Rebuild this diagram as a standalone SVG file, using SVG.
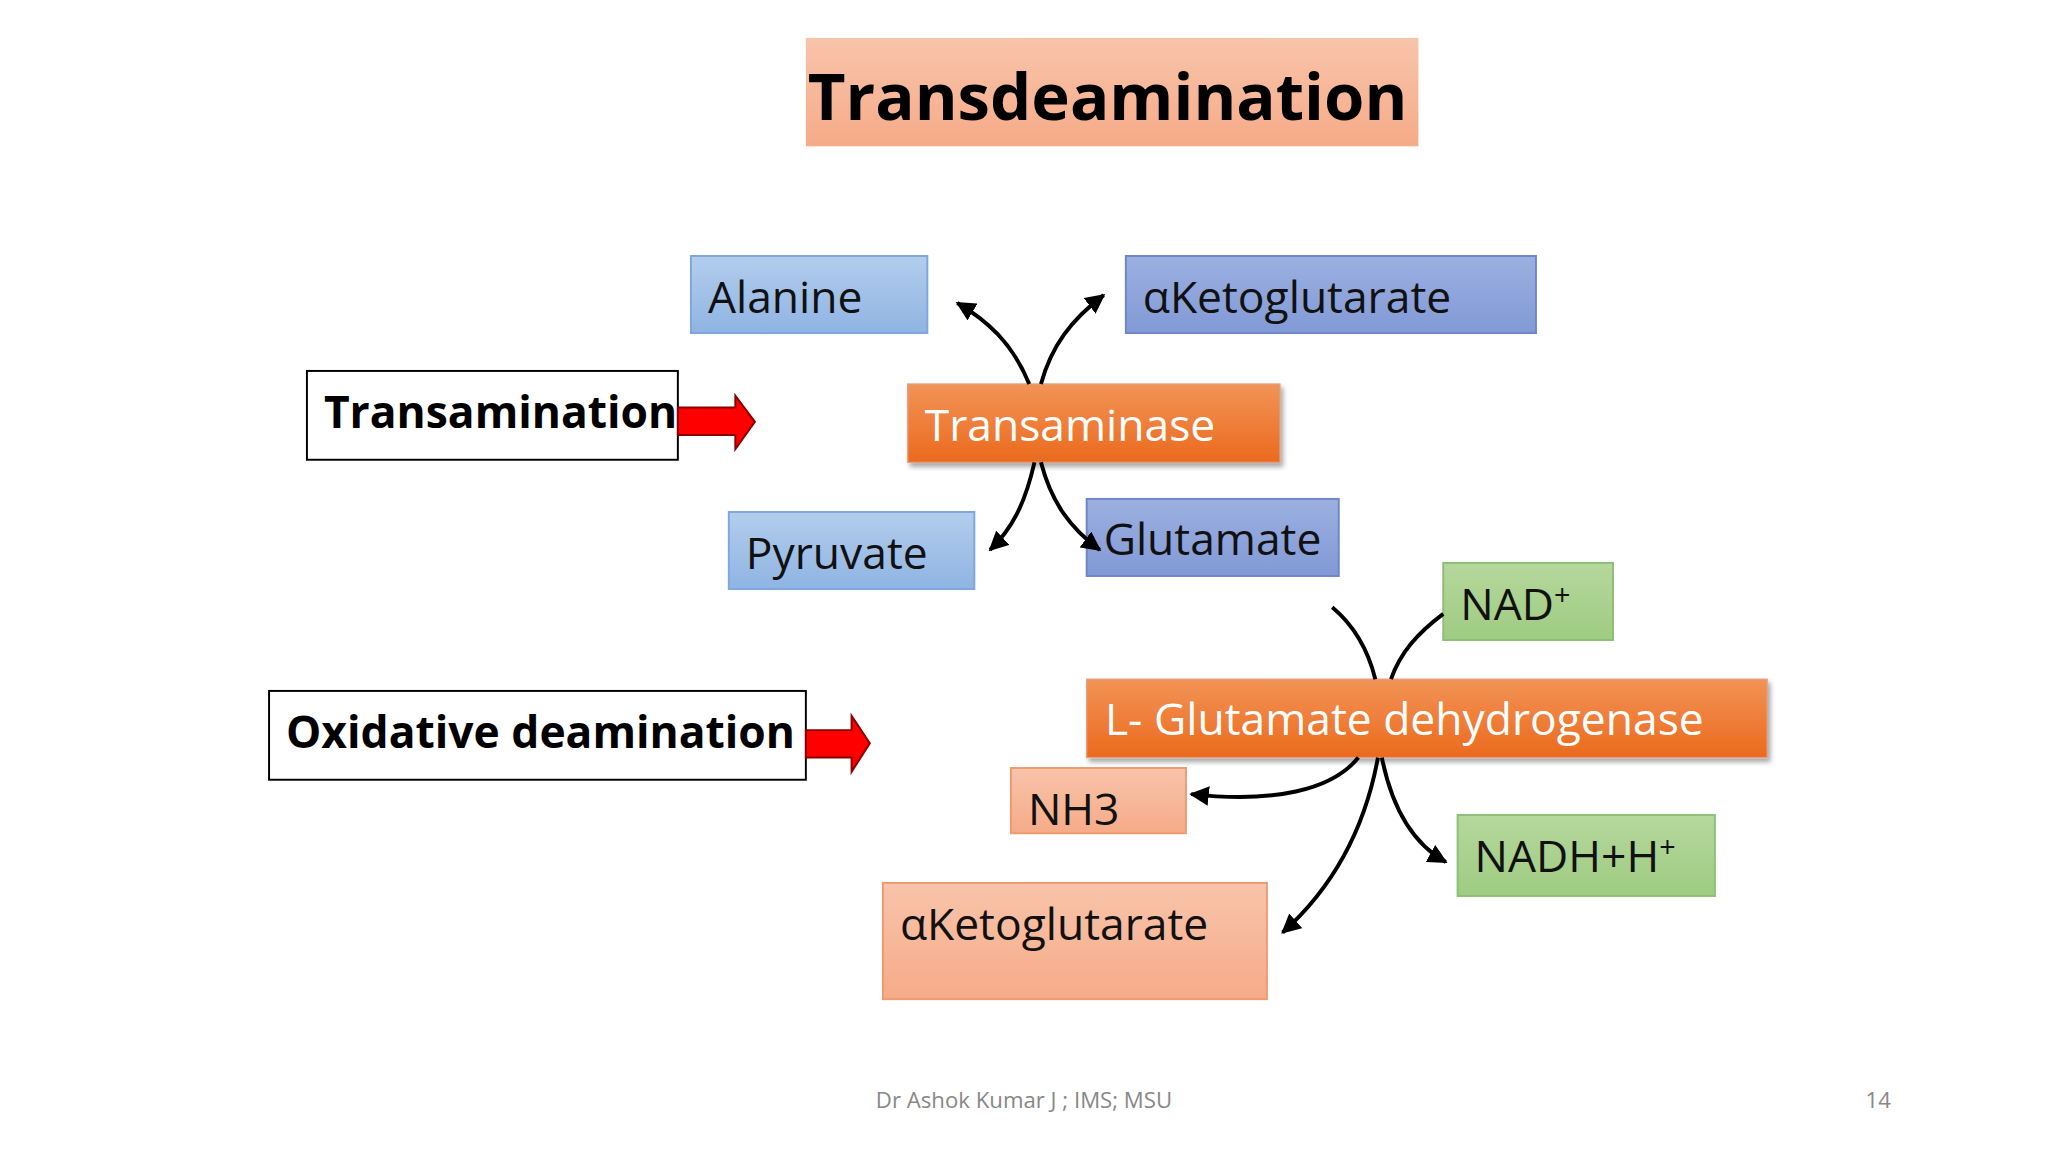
<svg xmlns="http://www.w3.org/2000/svg" width="2048" height="1152" viewBox="0 0 2048 1152">
<style>
text{font-family:"Open Sans","Liberation Sans",sans-serif;}
.t{font-size:34px;fill:#111}
.w{font-size:34px;fill:#fff}
.b{font-size:34px;font-weight:bold;fill:#000}
.c{fill:none;stroke:#000;stroke-width:3}
.blue{fill:url(#gb);stroke:#7fa7d9;stroke-width:1.5}
.pur{fill:url(#gp);stroke:#6f86c9;stroke-width:1.5}
.org{fill:url(#go);stroke:#e0a080;stroke-width:1}
.sal{fill:url(#gs);stroke:#ee9a72;stroke-width:1.5}
.grn{fill:url(#gg);stroke:#8cc078;stroke-width:1.5}
.red{fill:#f00;stroke:#800;stroke-width:1.5}
</style>
<defs>
<linearGradient id="gb" x1="0" y1="0" x2="0" y2="1"><stop offset="0" stop-color="#b3cdec"/><stop offset="1" stop-color="#8fb4e3"/></linearGradient>
<linearGradient id="gp" x1="0" y1="0" x2="0" y2="1"><stop offset="0" stop-color="#9cb0e0"/><stop offset="1" stop-color="#8199d6"/></linearGradient>
<linearGradient id="go" x1="0" y1="0" x2="0" y2="1"><stop offset="0" stop-color="#f29356"/><stop offset="1" stop-color="#eb6a1e"/></linearGradient>
<linearGradient id="gs" x1="0" y1="0" x2="0" y2="1"><stop offset="0" stop-color="#f8c4ab"/><stop offset="1" stop-color="#f6ab88"/></linearGradient>
<linearGradient id="gg" x1="0" y1="0" x2="0" y2="1"><stop offset="0" stop-color="#b5d89c"/><stop offset="1" stop-color="#9fcb82"/></linearGradient>
<marker id="ah" viewBox="0 0 10 10" refX="9" refY="5" markerWidth="5" markerHeight="5" orient="auto"><path d="M0,0L10,5L0,10z" fill="#000"/></marker>
<filter id="sh"><feDropShadow dx="2" dy="3" stdDeviation="2" flood-opacity="0.35"/></filter>
</defs>
<rect width="2048" height="1152" fill="#fff"/>
<g transform="scale(1.3061)">
<g id="title"><rect x="617" y="29" width="469" height="83" fill="url(#gs)"/><text x="848" y="92" text-anchor="middle" style="font-size:50px;font-weight:bold;fill:#000">Transdeamination</text></g>
<g id="alanine"><rect class="blue" x="529" y="196" width="181" height="59"/><text class="t" x="542" y="240">Alanine</text></g>
<g id="akg1"><rect class="pur" x="862" y="196" width="314" height="59"/><text class="t" x="875" y="240">αKetoglutarate</text></g>
<g id="transamination"><rect x="235" y="284" width="284" height="68" fill="#fff" stroke="#000" stroke-width="1.5"/><text class="b" x="248" y="328">Transamination</text></g>
<g id="arrow1"><path class="red" d="M519,312H563V303L578,323L563,344V333H519Z"/></g>
<g id="transaminase"><rect class="org" x="695" y="294" width="285" height="60" filter="url(#sh)"/><text class="w" x="708" y="338">Transaminase</text></g>
<g id="pyruvate"><rect class="blue" x="558" y="392" width="188" height="59"/><text class="t" x="571" y="436">Pyruvate</text></g>
<g id="glutamate"><rect class="pur" x="832" y="382" width="193" height="59"/><text class="t" x="845" y="425">Glutamate</text></g>
<g id="nad"><rect class="grn" x="1105" y="431" width="130" height="59"/><text class="t" x="1118" y="475">NAD<tspan style="font-size:22px" dy="-12">+</tspan></text></g>
<g id="oxidative"><rect x="206" y="529" width="411" height="68" fill="#fff" stroke="#000" stroke-width="1.5"/><text class="b" x="219" y="573">Oxidative deamination</text></g>
<g id="arrow2"><path class="red" d="M617,559H652V548L666,569L652,591V580H617Z"/></g>
<g id="gdh"><rect class="org" x="832" y="520" width="521" height="60" filter="url(#sh)"/><text class="w" x="846" y="563">L- Glutamate dehydrogenase</text></g>
<g id="nh3"><rect class="sal" x="774" y="588" width="134" height="50"/><text class="t" x="787" y="632">NH3</text></g>
<g id="nadh"><rect class="grn" x="1116" y="624" width="197" height="62"/><text class="t" x="1129" y="668">NADH+H<tspan style="font-size:22px" dy="-12">+</tspan></text></g>
<g id="akg2"><rect class="sal" x="676" y="676" width="294" height="89"/><text class="t" x="689" y="720">αKetoglutarate</text></g>
<g id="connectors">
<path class="c" d="M788,294C775,262 755,245 733,232" marker-end="url(#ah)"/>
<path class="c" d="M797,294C805,265 820,245 845,226" marker-end="url(#ah)"/>
<path class="c" d="M792,354C785,385 775,405 758,421" marker-end="url(#ah)"/>
<path class="c" d="M797,354C805,385 820,405 842,421" marker-end="url(#ah)"/>
<path class="c" d="M1020,465C1038,480 1048,500 1053,520"/>
<path class="c" d="M1065,520C1072,500 1085,485 1105,470"/>
<path class="c" d="M1040,580C1020,605 975,615 912,608" marker-end="url(#ah)"/>
<path class="c" d="M1055,580C1045,635 1020,680 982,714" marker-end="url(#ah)"/>
<path class="c" d="M1058,580C1065,615 1080,645 1107,660" marker-end="url(#ah)"/>
</g>
<text x="784" y="848" text-anchor="middle" style="font-size:17px;fill:#888">Dr Ashok Kumar J ; IMS; MSU</text>
<text x="1438" y="848" text-anchor="middle" style="font-size:17px;fill:#888">14</text>
</g>
</svg>
